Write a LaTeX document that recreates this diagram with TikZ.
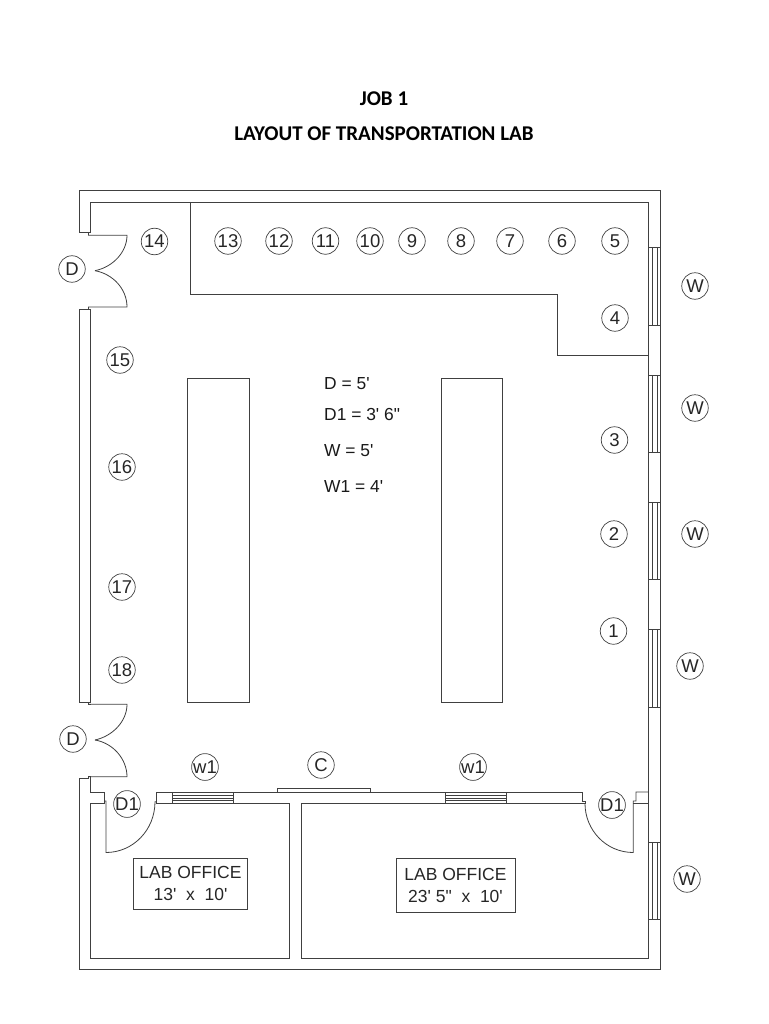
\documentclass[tikz,border=0pt]{standalone}
\usepackage{fontspec}
\setmainfont{Liberation Sans}
\newfontfamily\titlefont{Carlito}
\begin{document}
\begin{tikzpicture}[x=1pt,y=-1pt,
  wall/.style={draw=black!75,line width=0.8pt},
  tag/.style={draw=black!75,circle,line width=0.7pt,minimum size=26.5pt,inner sep=0pt,font=\fontsize{18.5}{18.5}\selectfont,text=black!85},
  note/.style={anchor=west,inner sep=0pt,font=\fontsize{17.4}{17.4}\selectfont,text=black!90},
  office/.style={draw=black!75,line width=0.8pt,align=center,inner sep=0pt,font=\fontsize{17.5}{21.7}\selectfont,text=black!85},
  heading/.style={inner sep=0pt,font=\titlefont\bfseries\fontsize{21}{21}\selectfont}]
\useasboundingbox (0,0) rectangle (768,1024);

\node[heading] (job) at (384,99) {JOB 1};
\node[heading] (title) at (384,134) {LAYOUT OF TRANSPORTATION LAB};

\draw[wall] (88,232.7) -- (79.5,232.7) -- (79.5,190) -- (660,190) -- (660,969) -- (79.5,969) -- (79.5,778.7) -- (88,778.7);
\draw[wall] (88,235.3) -- (88,232.7) -- (90.7,232.7) -- (90.7,202) -- (648.7,202) -- (648.7,958) -- (301,958) -- (301,803.5) -- (585,803.5) -- (585,801) -- (582.3,801) -- (582.3,792) -- (156.7,792) -- (156.7,803.5) -- (289,803.5) -- (289,958) -- (90.7,958) -- (90.7,803.5) -- (104,803.5) -- (104,792) -- (90.7,792) -- (90.7,776.7) -- (88,776.7) -- (88,778.7);
\draw[wall] (88,307) -- (88,309.3) -- (79.5,309.3) -- (79.5,702) -- (88,702) -- (88,704.3) -- (90.7,704.3);
\draw[wall] (88,309.3) -- (90.7,309.3) -- (90.7,702) -- (88,702);

\draw[wall] (88,235.3) -- (127,235.3) .. controls (127,252) and (113,267) .. (95,270.7);
\draw[wall] (95,270.7) .. controls (113,274) and (127,289) .. (127,307) -- (88,307);
\draw[wall] (88,704.3) -- (127,704.3) .. controls (127,721) and (113,736) .. (95,740);
\draw[wall] (95,740) .. controls (113,743) and (127,759) .. (127,776.7) -- (88,776.7);

\draw[wall] (104,801) -- (106,801) -- (106,852.5) .. controls (133,852.5) and (155,830) .. (155,801.7) -- (156.7,801.7);
\draw[wall] (585,803.5) .. controls (585,830) and (606,852.5) .. (633.3,852.5) -- (633.3,801) -- (636,801) -- (636,792) -- (648.7,792);
\draw[wall] (633.3,803.5) -- (648.7,803.5);

\draw[wall] (190.5,202) -- (190.5,294.3) -- (557.3,294.3) -- (557.3,355.7) -- (648.7,355.7);
\draw[wall] (187,378) rectangle (249,702);
\draw[wall] (441,378) rectangle (502.5,702);
\draw[wall] (277.3,792) -- (277.3,788.7) -- (370.3,788.7) -- (370.3,792);

\draw[wall] (172.3,792) rectangle (233.3,803.5);
\draw[wall] (172.3,795.7) -- (233.3,795.7) (172.3,798) -- (233.3,798) (172.3,800.3) -- (233.3,800.3);
\draw[wall] (445,792) rectangle (506,803.5);
\draw[wall] (445,795.7) -- (506,795.7) (445,798) -- (506,798) (445,800.3) -- (506,800.3);

\draw[wall] (648.7,247.7) rectangle (660,325.3);
\draw[wall] (652.7,247.7) -- (652.7,325.3) (657.3,247.7) -- (657.3,325.3);
\draw[wall] (648.7,375.3) rectangle (660,452.7);
\draw[wall] (652.7,375.3) -- (652.7,452.7) (657.3,375.3) -- (657.3,452.7);
\draw[wall] (648.7,502.3) rectangle (660,579.7);
\draw[wall] (652.7,502.3) -- (652.7,579.7) (657.3,502.3) -- (657.3,579.7);
\draw[wall] (648.7,629.7) rectangle (660,707);
\draw[wall] (652.7,629.7) -- (652.7,707) (657.3,629.7) -- (657.3,707);
\draw[wall] (648.7,842.3) rectangle (660,919.3);
\draw[wall] (652.7,842.3) -- (652.7,919.3) (657.3,842.3) -- (657.3,919.3);

\node[tag] (n1) at (613.5,631) {1};
\node[tag] (n2) at (614,534) {2};
\node[tag] (n3) at (614.5,440) {3};
\node[tag] (n4) at (615,318) {4};
\node[tag] (n5) at (615,241) {5};
\node[tag] (n6) at (562,241) {6};
\node[tag] (n7) at (510,241) {7};
\node[tag] (n8) at (461,241) {8};
\node[tag] (n9) at (412,241) {9};
\node[tag] (n10) at (370,241) {10};
\node[tag] (n11) at (325.5,241) {11};
\node[tag] (n12) at (279,241) {12};
\node[tag] (n13) at (228,241) {13};
\node[tag] (n14) at (154.5,241.5) {14};
\node[tag] (n15) at (120,360) {15};
\node[tag] (n16) at (122,467) {16};
\node[tag] (n17) at (122,587) {17};
\node[tag] (n18) at (122,670) {18};

\node[tag] (d1) at (72,269) {D};
\node[tag] (d2) at (73,739) {D};
\node[tag] (w1) at (695,286) {W};
\node[tag] (w2) at (695,408) {W};
\node[tag] (w3) at (695,534) {W};
\node[tag] (w4) at (690,666) {W};
\node[tag] (w5) at (687,879) {W};
\node[tag] (wa) at (205,767) {w1};
\node[tag] (wb) at (473,767) {w1};
\node[tag] (c) at (321,765) {C};
\node[tag] (da) at (127,804) {D1};
\node[tag] (db) at (612,805) {D1};

\node[note] (nd) at (324,384) {D = 5\textquotesingle};
\node[note] (nda) at (324,415) {D1 = 3\textquotesingle\ 6\textquotedbl};
\node[note] (nw) at (324,451) {W = 5\textquotesingle};
\node[note] (nwa) at (324,487) {W1 = 4\textquotesingle};

\node[office,minimum width=114.4pt,minimum height=51pt] (roomA) at (190.5,883.8) {LAB OFFICE\\13\textquotesingle\ \ x\ \ 10\textquotesingle};
\node[office,minimum width=119pt,minimum height=54.4pt] (roomB) at (455.5,885.5) {LAB OFFICE\\23\textquotesingle\ 5\textquotedbl\ \ x\ \ 10\textquotesingle};
\end{tikzpicture}
\end{document}
